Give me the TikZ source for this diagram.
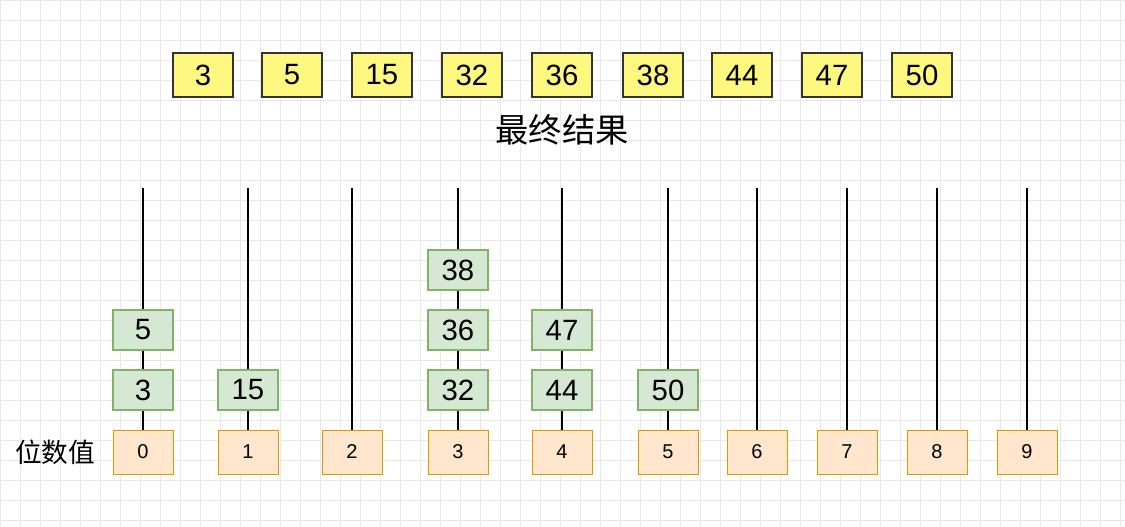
\documentclass[tikz,border=0pt]{standalone}
\usepackage{fontspec}
\setmainfont{Liberation Sans}
\newfontfamily\cjk{Noto Sans CJK SC}
\begin{document}
\begin{tikzpicture}[x=0.75pt,y=-0.75pt,
  ybox/.style={draw=black!80,line width=1.5pt,fill=yellow!50!white,minimum width=44.5pt,minimum height=33pt,inner sep=0pt,font=\fontsize{22}{24}\selectfont},
  gbox/.style={draw=green!45!black!40!green!50!gray,draw={rgb,255:red,130;green,179;blue,102},line width=1.5pt,fill={rgb,255:red,213;green,232;blue,212},minimum width=44.5pt,minimum height=30pt,inner sep=0pt,font=\fontsize{22}{24}\selectfont},
  obox/.style={draw={rgb,255:red,215;green,155;blue,0},line width=0.75pt,fill={rgb,255:red,255;green,230;blue,204},minimum width=45pt,minimum height=33pt,inner sep=0pt,font=\fontsize{15}{17}\selectfont},
  pole/.style={line width=1.5pt}]
\useasboundingbox (0,0) rectangle (1125,526);
\fill[white] (0,0) rectangle (1125,526);
\draw[black!9,line width=0.5pt] (0,0) grid[step=15pt] (1125,526);
% top
\foreach \v/\x [count=\i] in {3/203,5/292,15/382,32/472,36/562,38/653,44/742,47/832,50/922}
  \node[ybox] (t\i) at (\x,75) {\v};
\node[font=\cjk\fontsize{25}{28}\selectfont] (title) at (562,130) {最终结果};
% poles and digit boxes
\foreach \d/\x in {0/143,1/248,2/352,3/458,4/562,5/668,6/757,7/847,8/937,9/1027}{
  \coordinate (top\d) at (\x,188);
  \node[obox] (d\d) at (\x,452) {\d};
  \draw[pole] (top\d) -- (d\d.north);
}
\node[font=\cjk\fontsize{20}{22}\selectfont] (lbl) at (55,452) {位数值};
% green
\node[gbox] (g3) at (143,390) {3};
\node[gbox] (g5) at (143,330) {5};
\node[gbox] (g15) at (248,390) {15};
\node[gbox] (g32) at (458,390) {32};
\node[gbox] (g36) at (458,330) {36};
\node[gbox] (g38) at (458,270) {38};
\node[gbox] (g44) at (562,390) {44};
\node[gbox] (g47) at (562,330) {47};
\node[gbox] (g50) at (668,390) {50};
\end{tikzpicture}
\end{document}
